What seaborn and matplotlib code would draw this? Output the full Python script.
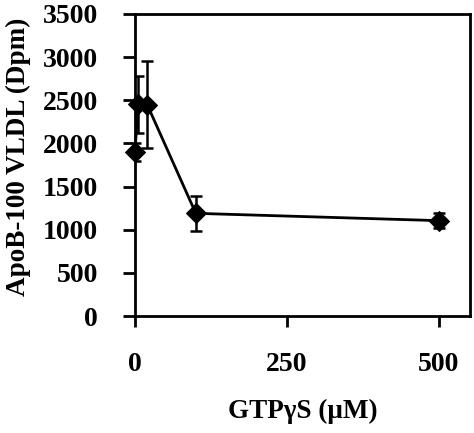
import matplotlib
matplotlib.use("Agg")
import matplotlib.pyplot as plt
import seaborn as sns
import pandas as pd

# Data
conc_uM = [0, 5, 20, 100, 500]
vldl_dpm = [1900, 2456, 2450, 1190, 1105]
err_dpm = [100, 330, 500, 200, 90]
x_ticks = [0, 250, 500]
y_ticks = [0, 500, 1000, 1500, 2000, 2500, 3000, 3500]

sns.set_theme(style="white")
plt.rcParams["font.family"] = ["Liberation Serif", "DejaVu Serif"]
plt.rcParams["font.weight"] = "bold"
plt.rcParams["text.color"] = "black"
plt.rcParams["axes.labelcolor"] = "black"

df = pd.DataFrame({"conc": conc_uM, "vldl": vldl_dpm, "err": err_dpm})

fig = plt.figure(figsize=(4.74, 4.33), dpi=100)
ax = fig.add_axes([135 / 474, 1 - 316 / 433, (470 - 135) / 474, (316 - 14) / 433])

ax.errorbar(df["conc"], df["vldl"], yerr=df["err"], fmt="none", ecolor="black",
            elinewidth=1.8, capsize=4, capthick=1.8, zorder=2)
sns.lineplot(data=df, x="conc", y="vldl", ax=ax, color="black", linewidth=2,
             marker="D", markersize=10, markeredgecolor="black", markerfacecolor="black",
             zorder=3, clip_on=False)

ax.set_xlim(0, 551)
ax.set_ylim(0, 3500)
ax.set_xticks(x_ticks)
ax.set_yticks(y_ticks)
ax.set_xticklabels([str(v) for v in x_ticks], fontsize=20, fontweight="bold", color="black")
ax.set_yticklabels([str(v) for v in y_ticks], fontsize=20, fontweight="bold", color="black")
ax.tick_params(axis="x", direction="out", length=8, width=2, pad=18, colors="black")
ax.tick_params(axis="y", direction="out", length=8.5, width=2, pad=18, colors="black")
ax.tick_params(bottom=True, left=True)

for s in ax.spines.values():
    s.set_visible(True)
    s.set_color("black")
    s.set_linewidth(2)

ax.set_xlabel("GTPγS (μM)", fontsize=19.5, fontweight="bold", labelpad=16, color="black")
ax.set_ylabel("ApoB-100 VLDL (Dpm)", fontsize=19.5, fontweight="bold", color="black")
ax.yaxis.set_label_coords(-0.31, 0.526)
ax.grid(False)

fig.savefig("out.png", dpi=100)
